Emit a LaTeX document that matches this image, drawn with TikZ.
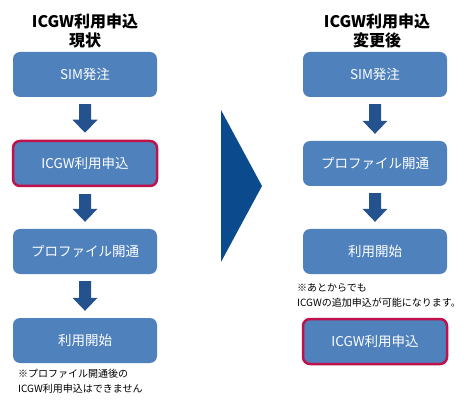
\documentclass[tikz,border=0pt]{standalone}
\usepackage{fontspec}
\newfontfamily\jp{Noto Sans CJK JP}
\usetikzlibrary{calc}
\definecolor{boxblue}{HTML}{4F81BD}
\definecolor{arrowblue}{HTML}{24528F}
\definecolor{chevblue}{HTML}{0B4A8C}
\definecolor{hlred}{HTML}{C0114B}
\tikzset{
  stepbox/.style={rectangle, rounded corners=7pt, fill=boxblue, text=white,
    minimum width=144pt, minimum height=45pt, inner sep=0pt,
    font=\jp\fontsize{13.5}{16}\selectfont},
  hlbox/.style={stepbox, draw=hlred, line width=2.5pt},
  title/.style={font=\jp\bfseries\fontsize{16}{19}\selectfont, inner sep=0pt},
  note/.style={font=\jp\fontsize{10}{15}\selectfont, align=left, inner sep=0pt, anchor=north west},
}
\newcommand\blockarrow[2]{%
  \fill[arrowblue] let \p1=(#1.south), \p2=(#2.north) in
    (\x1-6pt,\y1-7pt) -- (\x1+6pt,\y1-7pt) -- (\x1+6pt,\y2+20pt) -- (\x1+12.5pt,\y2+20pt)
    -- (\x1,\y2+7pt) -- (\x1-12.5pt,\y2+20pt) -- (\x1-6pt,\y2+20pt) -- cycle;}
\begin{document}
\begin{tikzpicture}[x=1pt,y=-1pt]
\useasboundingbox (0,0) rectangle (474,414);
% left column
\node[title] (lt1) at (85,21) {ICGW利用申込};
\node[title] (lt2) at (85,40) {現状};
\node[stepbox] (l1) at (85,74.5) {SIM発注};
\node[hlbox] (l2) at (85,163.5) {ICGW利用申込};
\node[stepbox] (l3) at (85,251.5) {プロファイル開通};
\node[stepbox] (l4) at (85,340.5) {利用開始};
\node[note] (ln) at (18,369) {※プロファイル開通後の\\ICGW利用申込はできません};
\blockarrow{l1}{l2}
\blockarrow{l2}{l3}
\blockarrow{l3}{l4}
% chevron
\fill[chevblue] (221,110) -- (262,186) -- (221,262) -- cycle;
% right column
\node[title] (rt1) at (377,21) {ICGW利用申込};
\node[title] (rt2) at (377,40) {変更後};
\node[stepbox] (r1) at (375,74.5) {SIM発注};
\node[stepbox] (r2) at (375,163.5) {プロファイル開通};
\node[stepbox] (r3) at (375,251.5) {利用開始};
\node[note] (rn) at (297,283) {※あとからでも\\ICGWの追加申込が可能になります。};
\node[hlbox] (r4) at (375,341.5) {ICGW利用申込};
\blockarrow{r1}{r2}
\blockarrow{r2}{r3}
\end{tikzpicture}
\end{document}
